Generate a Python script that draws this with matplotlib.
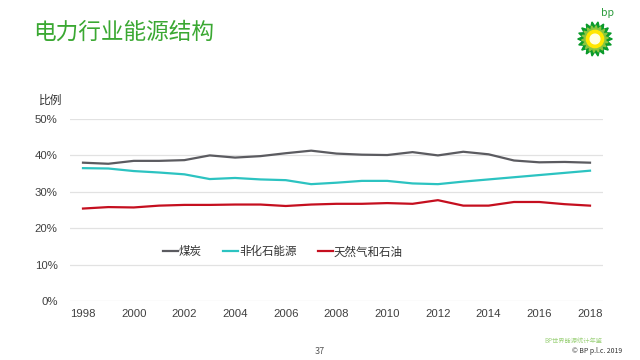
import numpy as np
import matplotlib
matplotlib.use('Agg')
import matplotlib.pyplot as plt
from matplotlib.patches import Polygon, Circle

plt.rcParams['font.family'] = ['Noto Sans CJK SC', 'DejaVu Sans']

# data (share of power generation, %)
years = list(range(1998, 2019))
coal = [38.0, 37.7, 38.5, 38.5, 38.7, 40.0, 39.4, 39.8, 40.6, 41.3, 40.5,
        40.2, 40.1, 40.9, 40.0, 41.0, 40.3, 38.6, 38.1, 38.2, 38.0]
non_fossil = [36.5, 36.4, 35.7, 35.3, 34.8, 33.5, 33.8, 33.4, 33.2, 32.1, 32.5,
              33.0, 33.0, 32.3, 32.1, 32.8, 33.4, 34.0, 34.6, 35.2, 35.8]
gas_oil = [25.4, 25.8, 25.7, 26.2, 26.4, 26.4, 26.5, 26.5, 26.1, 26.5, 26.7,
           26.7, 26.9, 26.7, 27.7, 26.2, 26.2, 27.2, 27.2, 26.6, 26.2]
series_names = ['煤炭', '非化石能源', '天然气和石油']
series_colors = ['#5b5b60', '#2cc3c1', '#c50f1f']
x_ticks = list(range(1998, 2019, 2))
y_ticks = [0, 10, 20, 30, 40, 50]

fig = plt.figure(figsize=(6.4, 3.6), dpi=100)
fig.patch.set_facecolor('white')

ax = fig.add_axes([70 / 640, 1 - 301 / 360, 533 / 640, 182 / 360])
for vals, name, col in zip([coal, non_fossil, gas_oil], series_names, series_colors):
    ax.plot(years, vals, color=col, lw=1.6, label=name, zorder=3)

ax.set_xlim(1998 - 13 / 25.35, 2018 + 13 / 25.35)
ax.set_ylim(0, 50)
ax.set_xticks(x_ticks)
ax.set_yticks(y_ticks)
ax.set_yticklabels([f'{v}%' for v in y_ticks])
ax.grid(axis='y', color='#e2e2e2', lw=0.9, zorder=0)
ax.set_axisbelow(True)
for s in ax.spines.values():
    s.set_visible(False)
ax.tick_params(length=0, labelsize=8.2, colors='#404040')
ax.tick_params(axis='x', pad=6)
ax.tick_params(axis='y', pad=9)
for lbl in ax.get_xticklabels() + ax.get_yticklabels():
    lbl.set_family(['Liberation Sans', 'DejaVu Sans'])

leg = fig.legend(loc='center', bbox_to_anchor=(283 / 640, 1 - 252 / 360), ncol=3,
                 frameon=False, fontsize=8.3, handlelength=1.3, handletextpad=0.05,
                 columnspacing=1.9)
for t in leg.get_texts():
    t.set_color('#333333')

fig.text(39 / 640, 1 - 100 / 360, '比例', fontsize=8.5, color='#333333', va='center')
fig.text(33 / 640, 1 - 32 / 360, '电力行业能源结构', fontsize=16.3, color='#3aa832',
         va='center')

# bp helios logo
lax = fig.add_axes([572 / 640, 1 - 62 / 360, 46 / 640, 46 / 360])
lax.set_xlim(-1.33, 1.33)
lax.set_ylim(-1.33, 1.33)
lax.set_aspect('equal')
lax.axis('off')
n = 18
ang = np.linspace(0, 2 * np.pi, 2 * n, endpoint=False)
r_out = np.where(np.arange(2 * n) % 2 == 0, 1.0, 0.72)
lax.add_patch(Polygon(np.c_[r_out * np.cos(ang), r_out * np.sin(ang)], color='#0a9a2a'))
r_mid = np.where(np.arange(2 * n) % 2 == 0, 0.78, 0.55)
ang2 = ang + np.pi / (2 * n)
lax.add_patch(Polygon(np.c_[r_mid * np.cos(ang2), r_mid * np.sin(ang2)], color='#8cc63f'))
lax.add_patch(Circle((0, 0), 0.5, color='#ffe600'))
lax.add_patch(Circle((0, 0), 0.28, color='#ffffe0'))
fig.text(607 / 640, 1 - 13 / 360, 'bp', fontsize=7.5, color='#2a9a3a', ha='center', va='center')

fig.text(320 / 640, 1 - 352 / 360, '37', fontsize=6.5, color='#555555', ha='center', va='center')
fig.text(602 / 640, 1 - 341 / 360, 'BP世界能源统计年鉴', fontsize=4.5, color='#9fd27e',
         ha='right', va='center')
fig.text(622 / 640, 1 - 351 / 360, '© BP p.l.c. 2019', fontsize=5, color='#333333',
         ha='right', va='center')

fig.savefig('out.png', dpi=100)
